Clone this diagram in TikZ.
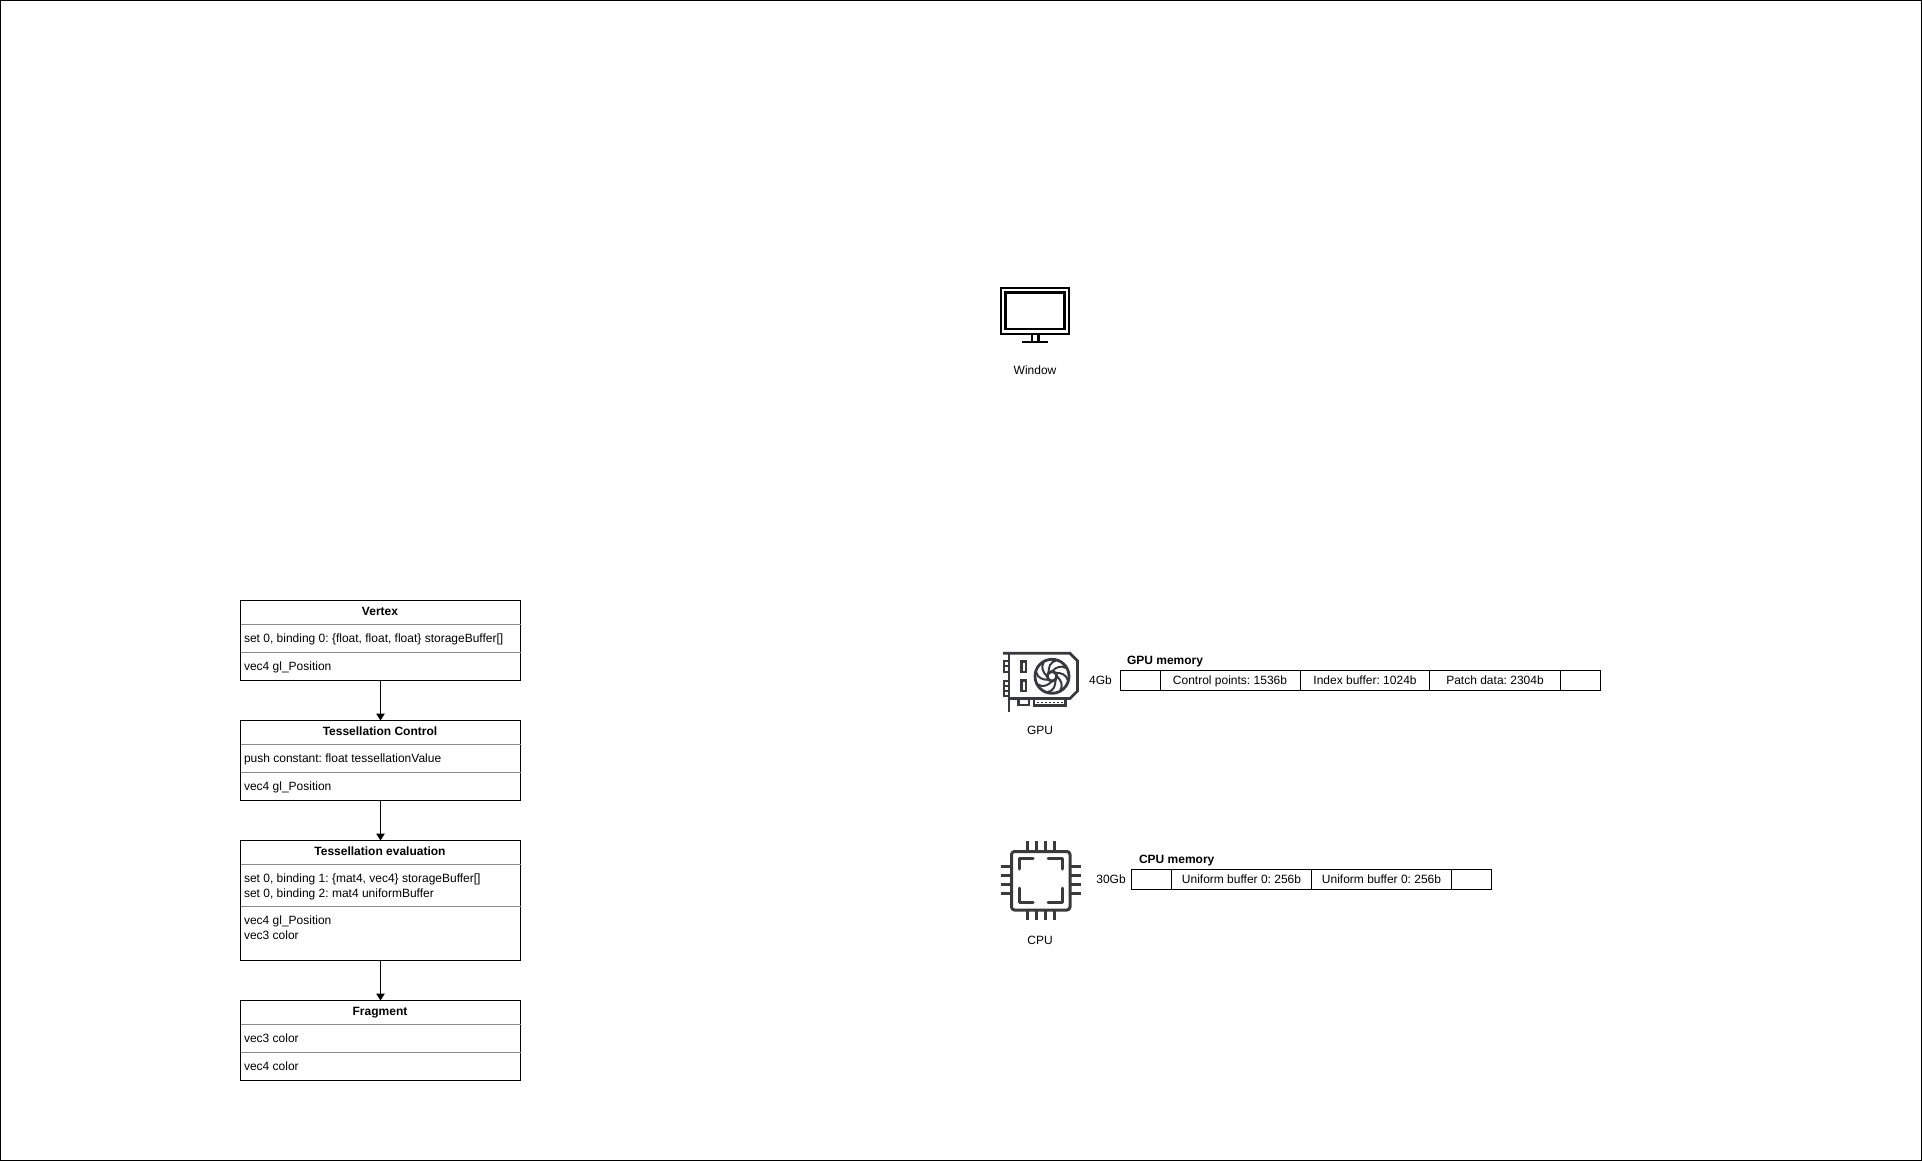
\documentclass[tikz,border=0pt]{standalone}
\usepackage{fontspec}
\setmainfont{Liberation Sans}
\frenchspacing
\usetikzlibrary{arrows.meta}
\definecolor{gpuink}{HTML}{37393D}
\definecolor{cpuink}{HTML}{3A3A3A}
\definecolor{divider}{HTML}{8C8C8C}
\tikzset{
  x=1pt,y=-1pt,
  txt/.style={inner sep=0pt,outer sep=0pt,font=\fontsize{12}{14}\selectfont,text=black},
  tl/.style={txt,anchor=base west},
  tc/.style={txt,anchor=base},
  tb/.style={txt,anchor=base,font=\fontsize{12}{14}\selectfont\bfseries},
  tbl/.style={txt,anchor=base west,font=\fontsize{12}{14}\selectfont\bfseries},
  frame/.style={draw=black,line width=1.1pt,fill=none,inner sep=0pt,outer sep=0pt,anchor=north west,minimum width=280pt},
  sep/.style={draw=divider,line width=1pt},
  flow/.style={draw=black,line width=1.1pt,-{Triangle[length=7pt,width=8.5pt]},shorten >=0pt},
  cell/.style={draw=black,line width=1.1pt,inner sep=0pt,outer sep=0pt,anchor=north west,minimum height=20pt},
  gpuline/.style={draw=gpuink,line width=2pt,line join=miter},
  gpuline2/.style={draw=gpuink,line width=2.8pt},
  cpuline/.style={draw=cpuink,line width=3pt,line cap=round,line join=round},
  pinline/.style={draw=cpuink,line width=3pt},
  mon/.style={draw=black,line width=2.1pt},
}
\begin{document}
\begin{tikzpicture}
\useasboundingbox (0,0) rectangle (1922,1161);
\node[draw=black,line width=1.2pt,inner sep=0pt,outer sep=0pt,anchor=north west,minimum width=1921pt,minimum height=1160pt] (page) at (0.5,0.5) {};

% ---------- shader boxes
\node[frame,minimum height=80pt] (vertex) at (240.5,600.5) {};
\draw[sep] (240.5,624.5) -- (520.5,624.5);
\draw[sep] (240.5,652.5) -- (520.5,652.5);
\node[tb] (vt) at (380,615) {Vertex};
\node[tl] (v1) at (244,642.3) {set 0, binding 0: \{float, float, float\} storageBuffer[]};
\node[tl] (v2) at (244,670) {vec4 gl\_Position};

\node[frame,minimum height=80pt] (tcontrol) at (240.5,720.5) {};
\draw[sep] (240.5,744.5) -- (520.5,744.5);
\draw[sep] (240.5,772.5) -- (520.5,772.5);
\node[tb] (ct) at (380,735) {Tessellation Control};
\node[tl] (c1) at (244,762) {push constant: float tessellationValue};
\node[tl] (c2) at (244,790) {vec4 gl\_Position};

\node[frame,minimum height=120pt] (teval) at (240.5,840.5) {};
\draw[sep] (240.5,864.5) -- (520.5,864.5);
\draw[sep] (240.5,906.5) -- (520.5,906.5);
\node[tb] (et) at (380,855) {Tessellation evaluation};
\node[tl] (e1) at (244,882.3) {set 0, binding 1: \{mat4, vec4\} storageBuffer[]};
\node[tl] (e2) at (244,897.3) {set 0, binding 2: mat4 uniformBuffer};
\node[tl] (e3) at (244,924.3) {vec4 gl\_Position};
\node[tl] (e4) at (244,939) {vec3 color};

\node[frame,minimum height=80pt] (fragment) at (240.5,1000.5) {};
\draw[sep] (240.5,1024.5) -- (520.5,1024.5);
\draw[sep] (240.5,1052.5) -- (520.5,1052.5);
\node[tb] (ft) at (380,1015) {Fragment};
\node[tl] (f1) at (244,1042.3) {vec3 color};
\node[tl] (f2) at (244,1070) {vec4 color};

\draw[flow] (vertex.south) -- (tcontrol.north);
\draw[flow] (tcontrol.south) -- (teval.north);
\draw[flow] (teval.south) -- (fragment.north);

% ---------- GPU memory
\node[tbl] (gpum) at (1127,664) {GPU memory};
\node[tc] (gpus) at (1100.5,684) {4Gb};
\node[cell,minimum width=40pt] (g0) at (1120.5,670.5) {};
\node[cell,minimum width=140pt] (g1) at (1160.5,670.5) {};
\node[cell,minimum width=129pt] (g2) at (1300.5,670.5) {};
\node[cell,minimum width=131pt] (g3) at (1429.5,670.5) {};
\node[cell,minimum width=40pt] (g4) at (1560.5,670.5) {};
\node[tc] (g1t) at (1230,684) {Control points: 1536b};
\node[tc] (g2t) at (1365,684) {Index buffer: 1024b};
\node[tc] (g3t) at (1495,684) {Patch data: 2304b};

% ---------- CPU memory
\node[tbl] (cpum) at (1139,863) {CPU memory};
\node[tc] (cpus) at (1111,883.3) {30Gb};
\node[cell,minimum width=40pt] (m0) at (1131.5,869.5) {};
\node[cell,minimum width=140pt] (m1) at (1171.5,869.5) {};
\node[cell,minimum width=140pt] (m2) at (1311.5,869.5) {};
\node[cell,minimum width=40pt] (m3) at (1451.5,869.5) {};
\node[tc] (m1t) at (1241.5,883.3) {Uniform buffer 0: 256b};
\node[tc] (m2t) at (1381.5,883.3) {Uniform buffer 0: 256b};

% ---------- icon labels
\node[tc] (wl) at (1035,374) {Window};
\node[tc] (gl) at (1040,734) {GPU};
\node[tc] (cl) at (1040,944) {CPU};

% ---------- monitor icon
\draw[mon] (1000.7,287.7) rectangle (1069,334);
\draw[mon] (1005.5,292.5) rectangle (1064.5,329);
\draw[mon] (1032,334) -- (1032,342) (1038.5,334) -- (1038.5,342);
\draw[mon] (1022,342) -- (1048,342);

% ---------- GPU icon
\draw[gpuline2] (1003,653.3) -- (1070,653.3) -- (1077.5,660.8) -- (1077.5,691) -- (1070,698.5) -- (1009,698.5);
\draw[gpuline2] (1009,653.3) -- (1009,711.5);
\draw[gpuline] (1009,660.5) -- (1004,660.5) -- (1004,672) -- (1009,672);
\draw[gpuline] (1004,666) -- (1009,666);
\draw[gpuline] (1009,681) -- (1004,681) -- (1004,696) -- (1009,696);
\draw[gpuline] (1004,686) -- (1009,686) (1004,691) -- (1009,691);
\draw[gpuline2] (1021.5,661.5) rectangle (1026,672);
\draw[gpuline2] (1021.5,680.5) rectangle (1026,691);
\draw[gpuline2] (1052,676.3) circle[radius=17];
\draw[gpuline2] (1052,676.3) circle[radius=4.8];
\foreach \a in {0,45,...,315}{
  \draw[gpuline,rotate around={\a:(1052,676.3)}] (1052,671.5) .. controls (1056,667) and (1061,665) .. (1066,668);
}
\draw[gpuline2] (1018.5,698.5) -- (1018.5,705) -- (1029,705) -- (1029,698.5);
\draw[gpuline2] (1034,698.5) -- (1034,705.5) -- (1065.5,705.5) -- (1065.5,698.5);
\draw[gpuline,dotted,line width=1.4pt] (1037,702.5) -- (1063,702.5);

% ---------- CPU icon
\draw[cpuline,rounded corners=3pt] (1011.5,851.5) rectangle (1070,910);
\draw[cpuline] (1019,869) -- (1019,858.5) -- (1033,858.5);
\draw[cpuline] (1048,858.5) -- (1062.5,858.5) -- (1062.5,869);
\draw[cpuline] (1019,888) -- (1019,902) -- (1033,902);
\draw[cpuline] (1048,902) -- (1062.5,902) -- (1062.5,888);
\foreach \p in {1027,1036,1045,1054}{
  \draw[pinline] (\p,841) -- (\p,851);
  \draw[pinline] (\p,910) -- (\p,920);
}
\foreach \q in {866.5,875.5,884.5,893.5}{
  \draw[pinline] (1000.5,\q) -- (1011,\q);
  \draw[pinline] (1070,\q) -- (1080.5,\q);
}
\end{tikzpicture}
\end{document}
